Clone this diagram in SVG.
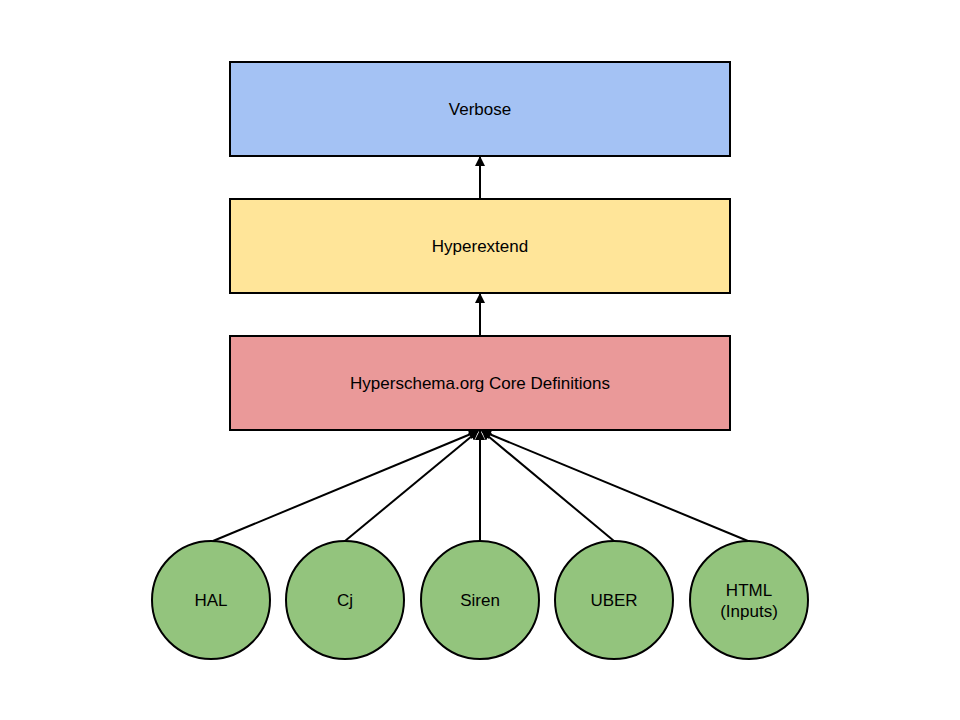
<svg xmlns="http://www.w3.org/2000/svg" width="960" height="720" viewBox="0 0 960 720">
<style>
.box{stroke:#000;stroke-width:2}
.c{fill:#93c47d;stroke:#000;stroke-width:2}
text{font-family:"Liberation Sans",Arial,sans-serif;font-size:17px;text-anchor:middle;fill:#000}
.e{stroke:#000;stroke-width:2;fill:none;marker-end:url(#a)}
</style>
<defs><marker id="a" markerWidth="10" markerHeight="10" refX="9" refY="5" orient="auto" markerUnits="userSpaceOnUse"><path d="M0,0 L10,5 L0,10 z" fill="#000"/></marker></defs>
<rect width="960" height="720" fill="#fff"/>
<g id="edges">
<line class="e" x1="480" y1="198" x2="480" y2="157"/>
<line class="e" x1="480" y1="336" x2="480" y2="294"/>
<line class="e" x1="213" y1="541" x2="478" y2="431"/>
<line class="e" x1="345" y1="541" x2="478" y2="431"/>
<line class="e" x1="480" y1="541" x2="480" y2="431"/>
<line class="e" x1="614" y1="541" x2="482" y2="431"/>
<line class="e" x1="748" y1="541" x2="482" y2="431"/>
</g>
<g id="verbose"><rect class="box" x="230" y="62" width="500" height="94" fill="#a4c2f4"/><text x="480" y="115">Verbose</text></g>
<g id="hyperextend"><rect class="box" x="230" y="199" width="500" height="94" fill="#ffe599"/><text x="480" y="252">Hyperextend</text></g>
<g id="core"><rect class="box" x="230" y="336" width="500" height="94" fill="#ea9999"/><text x="480" y="389">Hyperschema.org Core Definitions</text></g>
<g id="hal"><circle class="c" cx="211" cy="600" r="59"/><text x="211" y="606">HAL</text></g>
<g id="cj"><circle class="c" cx="345" cy="600" r="59"/><text x="345" y="606">Cj</text></g>
<g id="siren"><circle class="c" cx="480" cy="600" r="59"/><text x="480" y="606">Siren</text></g>
<g id="uber"><circle class="c" cx="614" cy="600" r="59"/><text x="614" y="606">UBER</text></g>
<g id="html"><circle class="c" cx="749" cy="600" r="59"/><text x="749" y="596">HTML</text><text x="749" y="617">(Inputs)</text></g>
</svg>
